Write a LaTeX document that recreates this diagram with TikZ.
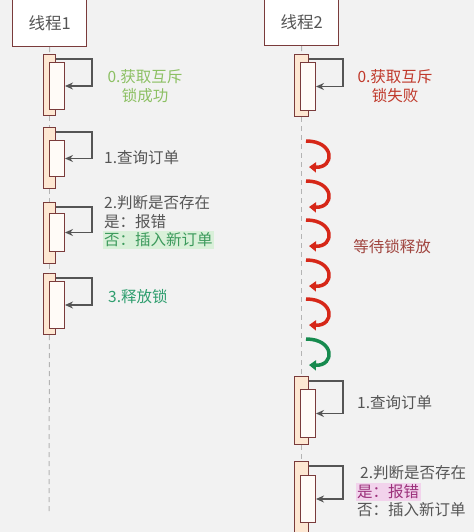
\documentclass[tikz,border=0pt]{standalone}
\usepackage{fontspec}
\setmainfont{Noto Sans CJK SC}
\usepackage{xcolor}
\usepackage{tikz}
\usetikzlibrary{arrows.meta, positioning}

\definecolor{bgfill}{HTML}{F2F2F2}
\definecolor{boxline}{HTML}{7A3B3B}
\definecolor{actfill}{HTML}{FDE7D2}
\definecolor{actwhite}{HTML}{FFFBF7}
\definecolor{arrowgray}{HTML}{555555}
\definecolor{lifegray}{HTML}{B4B4B4}
\definecolor{textgray}{HTML}{555555}
\definecolor{okgreen}{HTML}{8CC063}
\definecolor{failred}{HTML}{C0392B}
\definecolor{relgreen}{HTML}{2E9E6E}
\definecolor{nogreen}{HTML}{3C9A5C}
\definecolor{nohigh}{HTML}{D9F0D9}
\definecolor{yespurple}{HTML}{9B2F7A}
\definecolor{yeshigh}{HTML}{F2D3EC}
\definecolor{waitred}{HTML}{D62718}
\definecolor{waitgreen}{HTML}{168A4E}
\definecolor{waitlabel}{HTML}{A0453F}

\begin{document}
\begin{tikzpicture}[
    x=1pt, y=-1pt,
    font=\fontsize{15.5}{18.5}\selectfont,
    header/.style={rectangle, draw=boxline, line width=1.2pt, fill=white, inner sep=0pt, anchor=north west, text=textgray, font=\fontsize{16.5}{18}\selectfont},
    actout/.style={rectangle, draw=boxline, line width=1pt, fill=actfill, inner sep=0pt, minimum width=12pt, anchor=north west},
    actin/.style={rectangle, draw=boxline, line width=1pt, fill=actwhite, inner sep=0pt, minimum width=15pt, anchor=north west},
    lifeline/.style={draw=lifegray, line width=1pt, dash pattern=on 5pt off 4pt},
    selfmsg/.style={-{Stealth[length=8pt, width=7pt]}, draw=arrowgray, line width=1.5pt},
    note/.style={text=textgray, inner sep=0pt, anchor=west},
    wait/.style={-{Triangle[length=7pt, width=10pt]}, line width=3.5pt, draw=waitred},
]
    \useasboundingbox (0,0) rectangle (474,532);
    \fill[bgfill] (0,0) rectangle (474,532);

    % Thread headers
    \node[header, minimum width=74pt, minimum height=47pt] (h1) at (12,-1) {线程1};
    \node[header, minimum width=74pt, minimum height=46pt] (h2) at (264,-1) {线程2};

    % Thread 1 activations
    \node[actout, minimum height=61pt] (a1o) at (43,54) {};
    \node[actin, minimum height=47pt] (a1i) at (49,62) {};
    \node[actout, minimum height=61pt] (a2o) at (43,127) {};
    \node[actin, minimum height=36pt] (a2i) at (49,140) {};
    \node[actout, minimum height=61pt] (a3o) at (43,202) {};
    \node[actin, minimum height=38pt] (a3i) at (49,213) {};
    \node[actout, minimum height=61pt] (a4o) at (43,273) {};
    \node[actin, minimum height=47pt] (a4i) at (49,281) {};
    \coordinate (end1) at (49,513);

    % Thread 2 activations
    \node[actout, minimum width=14pt, minimum height=62pt] (b1o) at (294,54) {};
    \node[actin, minimum height=48pt] (b1i) at (300,62) {};
    \node[actout, minimum width=14pt, minimum height=68pt] (b2o) at (294,376) {};
    \node[actin, minimum height=48pt] (b2i) at (300,389) {};
    \node[actout, minimum width=14pt, minimum height=74pt] (b3o) at (294,461) {};
    \node[actin, minimum height=47pt] (b3i) at (300,475) {};

    % Lifelines
    \draw[lifeline] (h1) -- (a1o);
    \draw[lifeline] (a1o) -- (a2o);
    \draw[lifeline] (a2o) -- (a3o);
    \draw[lifeline] (a3o) -- (a4o);
    \draw[lifeline] (a4o) -- (end1);
    \draw[lifeline] (h2) -- (b1o);
    \draw[lifeline] (b1o) -- (b2o);
    \draw[lifeline] (b2o) -- (b3o);

    % Self calls
    \foreach \act in {a1, a2, a3, a4, b1, b2, b3}
        \draw[selfmsg] ([yshift=-5pt]\act o.north east) -| ([xshift=27pt]\act i.east) -- (\act i.east);

    % Waiting loops
    \foreach \y in {141, 181, 220, 260, 299}
        \draw[wait] (306,\y) .. controls (335,\y) and (335,\y+27) .. (309,\y+26);
    \draw[wait, draw=waitgreen] (306,339) .. controls (335,339) and (335,366) .. (309,365);

    % Labels thread 1
    \node[note, text=okgreen, anchor=center, align=center] (n0) at (145,86) {0.获取互斥\\锁成功};
    \node[note] (n1) at (104,158) {1.查询订单};
    \node[note] (n2) at (104,203) {2.判断是否存在};
    \node[note] (n2y) at (104,222) {是：报错};
    \node[note, text=nogreen, fill=nohigh, inner sep=1.5pt] (n2n) at (102.5,240) {否：插入新订单};
    \node[note, text=relgreen] (n3) at (108,297) {3.释放锁};

    % Labels thread 2
    \node[note, text=failred, anchor=center, align=center] (m0) at (395,86) {0.获取互斥\\锁失败};
    \node[note, text=waitlabel, anchor=center] (mw) at (392,247) {等待锁释放};
    \node[note] (m1) at (357,403) {1.查询订单};
    \node[note] (m2) at (360,473) {2.判断是否存在};
    \node[note, text=yespurple, fill=yeshigh, inner sep=1.5pt] (m2y) at (355.5,492) {是：报错};
    \node[note] (m2n) at (357,510) {否：插入新订单};
\end{tikzpicture}
\end{document}
